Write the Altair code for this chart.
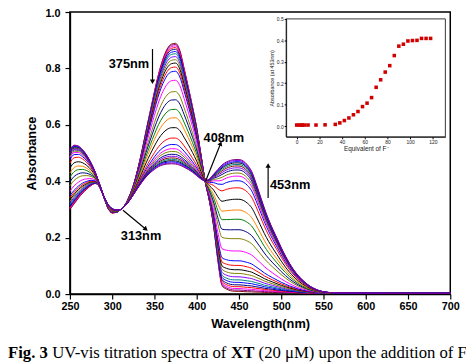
import altair as alt
import pandas as pd

# ---------------- data ----------------
wavelength = [250, 255, 260, 265, 270, 275, 280, 285, 290, 295, 300, 305, 310, 315, 320,
              325, 330, 335, 340, 345, 350, 355, 360, 365, 370, 375, 380, 385, 390, 395,
              400, 405, 410, 415, 420, 425, 430, 435, 440, 445, 450, 455, 460, 465, 470,
              475, 480, 485, 490, 495, 500, 505, 510, 515, 520, 525, 530, 535, 540, 545,
              550, 555, 560, 580, 620, 660, 700]

# spectrum before F- addition (375 nm band)
free_spectrum = [0.300, 0.320, 0.340, 0.358, 0.372, 0.385, 0.392, 0.380, 0.345, 0.305, 0.288,
                 0.290, 0.300, 0.315, 0.345, 0.385, 0.440, 0.505, 0.578, 0.648, 0.718, 0.782,
                 0.833, 0.869, 0.886, 0.889, 0.864, 0.802, 0.735, 0.665, 0.590, 0.495, 0.400,
                 0.330, 0.240, 0.120, 0.030, 0.018, 0.012, 0.010, 0.010, 0.009, 0.008, 0.008,
                 0.007, 0.007, 0.006, 0.006, 0.006, 0.005, 0.005, 0.005, 0.005, 0.005, 0.004,
                 0.004, 0.004, 0.004, 0.004, 0.004, 0.004, 0.004, 0.004, 0.003, 0.003, 0.003,
                 0.003]

# spectrum at the end of the titration (453 nm band)
complex_spectrum = [0.510, 0.528, 0.525, 0.512, 0.492, 0.465, 0.432, 0.390, 0.348, 0.318, 0.303,
                    0.298, 0.300, 0.312, 0.330, 0.352, 0.375, 0.396, 0.415, 0.430, 0.442, 0.452,
                    0.458, 0.461, 0.462, 0.461, 0.457, 0.450, 0.442, 0.432, 0.420, 0.408, 0.402,
                    0.408, 0.425, 0.442, 0.458, 0.468, 0.474, 0.477, 0.477, 0.472, 0.458, 0.435,
                    0.395, 0.350, 0.305, 0.265, 0.230, 0.198, 0.165, 0.135, 0.108, 0.085, 0.066,
                    0.050, 0.037, 0.026, 0.018, 0.012, 0.008, 0.006, 0.005, 0.004, 0.003, 0.003,
                    0.003]

# absorbance maximum near 375 nm of every recorded spectrum
peak_375 = [0.889, 0.885, 0.880, 0.874, 0.868, 0.860, 0.852, 0.842, 0.831, 0.819, 0.805,
            0.790, 0.758, 0.718, 0.689, 0.655, 0.625, 0.590, 0.553, 0.530, 0.515, 0.505,
            0.495, 0.488, 0.482, 0.477, 0.472, 0.468, 0.464, 0.461]

line_colors = ["#800000", "#800080", "#FF00FF", "#FF0000", "#000080", "#0000FF", "#008080",
               "#8000FF", "#808000", "#000000", "#FF0000", "#0000FF", "#FF00FF", "#808000",
               "#000080", "#008000", "#FF8000", "#000000", "#FF0000", "#0000FF", "#FF00FF",
               "#808000", "#000080", "#8000FF", "#800000", "#008080", "#000000", "#0000FF",
               "#8000FF", "#800080"]

# inset: absorbance at 453 nm vs equivalents of F-
equivalents = [0, 2, 4, 5, 7, 10, 17, 25, 34, 38, 42, 46, 50, 54, 58, 62, 66, 70, 74, 78,
               82, 86, 90, 94, 98, 102, 106, 110, 114, 118]
abs_453 = [0.005, 0.005, 0.005, 0.005, 0.005, 0.005, 0.005, 0.006, 0.008, 0.015, 0.026,
           0.038, 0.053, 0.068, 0.091, 0.107, 0.133, 0.181, 0.216, 0.252, 0.282, 0.329,
           0.373, 0.382, 0.397, 0.399, 0.400, 0.409, 0.409, 0.409]

labels = ["375nm", "408nm", "453nm", "313nm"]
label_wl = [319.8, 432.0, 510.5, 334.1]
label_abs = [0.816, 0.553, 0.387, 0.207]

arrow_wl = [347.7, 410.5, 484.5, 312.8]
arrow_abs = [0.869, 0.400, 0.341, 0.297]
arrow_wl2 = [347.7, 428.3, 484.5, 339.9]
arrow_abs2 = [0.753, 0.534, 0.456, 0.230]
arrow_angle = [180, 22, 0, 130]

caption_parts = ["Fig. 3", "UV-vis titration spectra of", "XT",
                 "(20 \u03bcM) upon the addition of F\u207b"]
caption_weights = ["bold", "normal", "bold", "normal"]

# ---------------- tables ----------------
p0 = max(free_spectrum)
p1 = peak_375[-1]
rows = []
for k, p in enumerate(peak_375):
    f = (p0 - p) / (p0 - p1)
    for w, a0, a1 in zip(wavelength, free_spectrum, complex_spectrum):
        rows.append({"curve": k, "wl": w, "A": (1 - f) * a0 + f * a1,
                     "color": line_colors[k]})
spec = pd.DataFrame(rows)

lab_df = pd.DataFrame({"t": labels, "wl": label_wl, "A": label_abs})
arr_df = pd.DataFrame({"wl": arrow_wl, "A": arrow_abs, "wl2": arrow_wl2, "A2": arrow_abs2,
                       "ang": arrow_angle})
ins_df = pd.DataFrame({"eq": equivalents, "a": abs_453})

W, H = 387, 287
FONT = "Liberation Sans"

x_scale = alt.Scale(domain=[250, 700], nice=False, zero=False)
y_scale = alt.Scale(domain=[0, 1], nice=False, zero=False)

x_axis = alt.Axis(
    values=list(range(250, 701, 25)),
    labelExpr="datum.value % 50 == 0 ? datum.label : ''",
    tickSize={"condition": {"test": "datum.value % 50 != 0", "value": 3}, "value": 5},
    labelFont=FONT, labelFontWeight="bold", labelFontSize=11, labelColor="black",
    labelFlush=False, labelOverlap=False, labelPadding=2,
    domainColor="black", domainWidth=1.5, tickColor="black", tickWidth=1.2,
    grid=False, title="Wavelength(nm)", titleFont=FONT, titleFontSize=13,
    titleFontWeight="bold", titleColor="black", titlePadding=6,
)
y_axis = alt.Axis(
    values=[i / 10 for i in range(11)],
    labelExpr="round(datum.value * 10) % 2 == 0 ? format(datum.value, '.1f') : ''",
    tickSize={"condition": {"test": "round(datum.value * 10) % 2 != 0", "value": 3}, "value": 5},
    labelOffset={"condition": {"test": "datum.value > 0.95", "value": 2}, "value": 0},
    labelFont=FONT, labelFontWeight="bold", labelFontSize=11, labelColor="black",
    labelFlush=False, labelOverlap=False, labelPadding=5,
    domainColor="black", domainWidth=1.5, tickColor="black", tickWidth=1.2,
    grid=False, title="Absorbance", titleFont=FONT, titleFontSize=13,
    titleFontWeight="bold", titleColor="black", titlePadding=7,
)

lines = alt.Chart(spec).mark_line(strokeWidth=1, interpolate="monotone").encode(
    x=alt.X("wl:Q", scale=x_scale, axis=x_axis),
    y=alt.Y("A:Q", scale=y_scale, axis=y_axis),
    color=alt.Color("color:N", scale=None),
    detail="curve:N",
)

rules = alt.Chart(arr_df).mark_rule(color="black", strokeWidth=1.2).encode(
    x="wl:Q", y="A:Q", x2="wl2:Q", y2="A2:Q")

heads = alt.Chart(arr_df).mark_point(shape="triangle-up", filled=True, color="black",
                                     size=28, opacity=1).encode(
    x="wl2:Q", y="A2:Q", angle=alt.Angle("ang:Q", scale=None))

texts = alt.Chart(lab_df).mark_text(font=FONT, fontWeight="bold", fontSize=13,
                                    color="black").encode(
    x="wl:Q", y="A:Q", text="t:N")

cap_font = "Liberation Serif"
cap_y = 352
cap_x = [-63, -18, 164, 192]
caption = [
    alt.Chart(pd.DataFrame({"t": [t]})).mark_text(
        font=cap_font, fontSize=17, fontWeight=wt, align="left", baseline="alphabetic",
        color="black").encode(x=alt.value(px), y=alt.value(cap_y), text="t:N")
    for t, px, wt in zip(caption_parts, cap_x, caption_weights)
]

main = alt.layer(lines, rules, heads, texts, *caption)

# ---------------- inset ----------------
ix_scale = alt.Scale(domain=[-9.3, 131], range=[220, 382], nice=False, zero=False)
iy_scale = alt.Scale(domain=[-0.05, 0.5], range=[127, 7], nice=False, zero=False)

frame = alt.Chart(pd.DataFrame({"a": [0]})).mark_rect(
    filled=False, stroke="black", strokeWidth=0.8).encode(
    x=alt.XDatum(-9.3, scale=ix_scale), x2=alt.X2Datum(131),
    y=alt.YDatum(-0.05, scale=iy_scale), y2=alt.Y2Datum(0.5))

pts = alt.Chart(ins_df).mark_square(size=13, color="#d00000", opacity=1).encode(
    x=alt.X("eq:Q", scale=ix_scale, axis=alt.Axis(
        orient="bottom", offset=-160, values=[0, 20, 40, 60, 80, 100, 120],
        labelFontSize=5, labelFont=FONT, labelColor="#222", labelPadding=1, labelFlush=False,
        tickSize=2, tickColor="black", domainColor="black", domainWidth=0.8, grid=False,
        title="Equivalent of F\u207b", titleFontSize=6.5, titleFont=FONT,
        titleFontWeight="normal", titleColor="#222", titlePadding=1)),
    y=alt.Y("a:Q", scale=iy_scale, axis=alt.Axis(
        orient="left", offset=-220, values=[0, 0.1, 0.2, 0.3, 0.4, 0.5], format=".1f",
        labelFontSize=5, labelFont=FONT, labelColor="#222", labelPadding=1, labelFlush=False,
        tickSize=2, tickColor="black", domainColor="black", domainWidth=0.8, grid=False,
        title="Absorbance (at 453nm)", titleFontSize=5.5, titleFont=FONT,
        titleFontWeight="normal", titleColor="#222", titlePadding=2)),
)

inset = alt.layer(frame, pts)

chart = alt.layer(main, inset).resolve_scale(x="independent", y="independent").properties(
    width=W, height=H,
    autosize=alt.AutoSizeParams(type="none"),
    padding={"left": 63, "top": 1, "right": 16, "bottom": 66},
).configure_view(stroke="black", strokeWidth=1.5)

chart.save("out.html", embed_options={"renderer": "svg", "actions": False})
